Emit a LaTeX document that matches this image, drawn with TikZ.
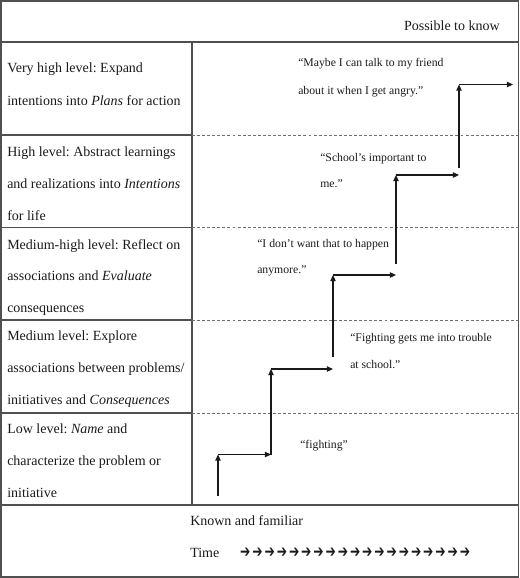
\documentclass[tikz,border=0pt]{standalone}
\usepackage{graphicx}
\usepackage{fontspec}
\setmainfont{Liberation Serif}
\newfontfamily\arrowfont{DejaVu Sans}
\usetikzlibrary{arrows.meta}
\definecolor{linegray}{HTML}{505050}
\definecolor{dashgray}{HTML}{707070}
\definecolor{inkc}{HTML}{1A1A1A}
\newcommand{\ta}{\makebox[9.15pt]{\scalebox{0.72}[1]{➔}}}
\frenchspacing
\begin{document}
\begin{tikzpicture}[x=0.75pt,y=-0.75pt,
  frame/.style={draw=linegray, line width=0.95pt},
  dashline/.style={draw=dashgray, line width=0.7pt, dash pattern=on 2.2pt off 1.6pt},
  big/.style={inner sep=0pt, anchor=base west, font=\fontsize{10.5pt}{12pt}\selectfont, text=inkc},
  quote/.style={inner sep=0pt, anchor=base west, font=\fontsize{8.8pt}{10pt}\selectfont, text=inkc},
  stair/.style={draw=inkc, line width=1.1pt, -{Triangle[length=4.6pt, width=4pt]}}]
\useasboundingbox (0,0) rectangle (520,578);
% frame
\draw[frame] (1,1) rectangle (518.5,577);
\draw[frame] (1,42) -- (518.5,42);
\draw[frame] (1,505) -- (518.5,505);
\draw[frame] (192,42) -- (192,505);
\foreach \yy in {135,227.5,320,413}{
  \draw[frame] (1,\yy) -- (192,\yy);
  \draw[dashline] (192,\yy) -- (518.5,\yy);
}
% header / footer
\node[big, anchor=base east] (pk) at (500,30) {Possible to know};
\node[big] (kf) at (190,525) {Known and familiar};
\node[big] (time) at (190,557.5) {Time};
\node[inner sep=0pt, anchor=west, font=\arrowfont\fontsize{12.8pt}{14pt}\selectfont, text=inkc] (tarrows) at (239,552.5)
  {\ta\ta\ta\ta\ta\ta\ta\ta\ta\ta\ta\ta\ta\ta\ta\ta\ta\ta\ta};
% level descriptions
\node[big] (l1a) at (7,72.5) {Very high level: Expand};
\node[big] (l1b) at (7,105.5) {intentions into \textit{Plans} for action};
\node[big] (l2a) at (7,156.5) {High level: Abstract learnings};
\node[big] (l2b) at (7,188.5) {and realizations into \textit{Intentions}};
\node[big] (l2c) at (7,220) {for life};
\node[big] (l3a) at (7,249) {Medium-high level: Reflect on};
\node[big] (l3b) at (7,280.5) {associations and \textit{Evaluate}};
\node[big] (l3c) at (7,312) {consequences};
\node[big] (l4a) at (7,340.5) {Medium level: Explore};
\node[big] (l4b) at (7,372) {associations between problems/};
\node[big] (l4c) at (7,404) {initiatives and \textit{Consequences}};
\node[big] (l5a) at (7,433) {Low level: \textit{Name} and};
\node[big] (l5b) at (7,465.5) {characterize the problem or};
\node[big] (l5c) at (7,497) {initiative};
% quotes
\node[quote] (q1a) at (298,66.5) {“Maybe I can talk to my friend};
\node[quote] (q1b) at (298,94.5) {about it when I get angry.”};
\node[quote] (q2a) at (320,161.5) {“School’s important to};
\node[quote] (q2b) at (320,187.5) {me.”};
\node[quote] (q3a) at (257,247.5) {“I don’t want that to happen};
\node[quote] (q3b) at (257,273) {anymore.”};
\node[quote] (q4a) at (350,341.5) {“Fighting gets me into trouble};
\node[quote] (q4b) at (350,368.5) {at school.”};
\node[quote] (q5) at (300,448) {“fighting”};
% staircase
\coordinate (a0) at (218,496);
\coordinate (a1) at (218,454.5);
\coordinate (b0) at (271,454.5);
\coordinate (b1) at (271,369);
\coordinate (c0) at (333,369);
\coordinate (c1) at (333,357);
\coordinate (c2) at (333,275);
\coordinate (d0) at (396,275);
\coordinate (d1) at (396,264);
\coordinate (d2) at (396,175);
\coordinate (e0) at (459,175);
\coordinate (e1) at (459,168);
\coordinate (e2) at (459,84.5);
\coordinate (f0) at (513,84.5);
\draw[stair] (a0) -- (a1);
\draw[stair] (a1) -- (b0);
\draw[stair] (b0) -- (b1);
\draw[stair] (b1) -- (c0);
\draw[stair] (c1) -- (c2);
\draw[stair] (c2) -- (d0);
\draw[stair] (d1) -- (d2);
\draw[stair] (d2) -- (e0);
\draw[stair] (e1) -- (e2);
\draw[stair] (e2) -- (f0);
\end{tikzpicture}
\end{document}
